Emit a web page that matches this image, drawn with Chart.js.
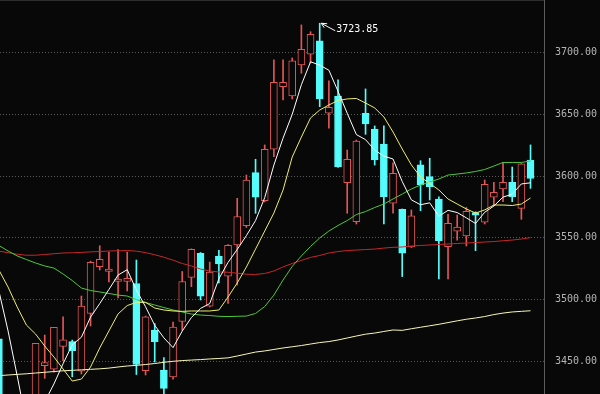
<!DOCTYPE html>
<html>
<head>
<meta charset="utf-8">
<script src="https://cdn.jsdelivr.net/npm/chart.js@4/dist/chart.umd.min.js"></script>
<style>
  html, body { margin: 0; padding: 0; background: #080808; }
  #wrap { width: 600px; height: 394px; position: relative; }
</style>
</head>
<body>
<div id="wrap"><canvas id="kChart"></canvas></div>
<script>
//
// candle data, index 0..58 left to right (null = below the visible range)
//
const opens = [
  3468, null, null, null, 3418, 3446.2, 3443.5, 3461.9, 3465.7, 3441.9,
  3488.7, 3526.5, 3522.6, 3514.5, 3514.5, 3512.9, 3442.3, 3475.2, 3442.7, 3437.1,
  3482.1, 3517.9, 3537.4, 3494.4, 3535.2, 3518.9, 3544.1, 3559.7, 3602.7, 3580,
  3621.7, 3672.4, 3664.9, 3690, 3698.7, 3709.5, 3650.9, 3664.9, 3594.6, 3563,
  3650.9, 3638.1, 3626, 3577.9, 3573, 3542.5, 3609, 3599.5, 3581.4, 3542.7,
  3555.4, 3551.4, 3570.3, 3562.5, 3582.8, 3589.5, 3594.9, 3573.8, 3613
];
const highs = [
  3469, null, null, null, 3464.4, 3471.1, 3477.4, 3485.9, 3467, 3502.7,
  3531, 3543.5, 3538.4, 3540.4, 3538.4, 3531.9, 3486.5, 3480.4, 3452.9, 3481.7,
  3522.6, 3541, 3538, 3530.3, 3539.8, 3544.5, 3581.9, 3600.8, 3613.6, 3625.2,
  3694.1, 3694.1, 3695.7, 3722.5, 3717, 3723.85, 3677.1, 3677.9, 3621.1, 3629.2,
  3670.6, 3640.6, 3640.6, 3610.8, 3573.3, 3572.5, 3612.4, 3614.4, 3583.2, 3569,
  3568.4, 3574.5, 3571, 3596.8, 3594.9, 3611.1, 3607.3, 3610.2, 3625.2
];
const lows = [
  3405, null, null, null, 3412, 3436, 3441, 3450.3, 3437.3, 3439.5,
  3478.4, 3523.8, 3514.1, 3501.1, 3506.8, 3439.1, 3438.7, 3449.2, 3421, 3435.4,
  3474.8, 3510.3, 3499.5, 3493.8, 3513.3, 3496.7, 3511.6, 3558.3, 3569.8, 3579,
  3615.7, 3661.6, 3662.5, 3683.3, 3691.6, 3656.2, 3638.7, 3607, 3569.8, 3561.1,
  3633.8, 3608.9, 3561.1, 3569.8, 3518.5, 3542, 3571.9, 3580.6, 3516.5, 3516.5,
  3548, 3543.3, 3539.5, 3561.1, 3575.7, 3579.2, 3579.2, 3564.9, 3590
];
const closes = [
  3415, null, null, null, 3464.4, 3448.7, 3477.4, 3467.3, 3458.4, 3494.6,
  3530.1, 3532.5, 3524.6, 3516.5, 3517.1, 3447.2, 3485.9, 3465.7, 3427.9, 3477.6,
  3514.5, 3540.6, 3502.7, 3522.2, 3528.7, 3543.8, 3567.2, 3596.8, 3582.8, 3621.7,
  3676, 3676, 3693.3, 3702.8, 3714.9, 3662.5, 3655.7, 3607.6, 3613.6, 3628.4,
  3642.2, 3613, 3583.2, 3602.2, 3537.4, 3567.8, 3592.7, 3591.4, 3547.6, 3561.7,
  3558.7, 3571.3, 3568.2, 3593.3, 3586.8, 3594.9, 3583.2, 3609.8, 3598
];

// moving average lines
const ma5 = [
  3506.8, 3474.4, 3437.9, 3400, 3398, 3417, 3431.4, 3447.8, 3463.2, 3469.3,
  3485.6, 3496.6, 3508.0, 3519.7, 3524.1, 3507.6, 3494, 3479, 3468.8, 3460.9,
  3474.3, 3485.3, 3492.7, 3496.6, 3516.7, 3530.0, 3540.5, 3551.7, 3563.9, 3582.5,
  3608.9, 3630.7, 3650.0, 3674.0, 3692.6, 3689.9, 3685.8, 3668.7, 3650.9, 3633.6,
  3629.5, 3621.0, 3616.1, 3613.8, 3595.6, 3580.7, 3576.7, 3578.3, 3567.4, 3572.2,
  3570.4, 3566.1, 3561.5, 3570.6, 3575.7, 3582.9, 3585.3, 3593.6, 3594.5
];
const ma10 = [
  3523.8, 3510.0, 3493.8, 3479.2, 3471.9, 3462.2, 3453.3, 3443.6, 3433.8, 3435.4,
  3445.2, 3460.6, 3474.4, 3488.2, 3495.0, 3497.6, 3497.6, 3493.0, 3491.4, 3490.6,
  3490.3, 3490.6, 3490.6, 3490.6, 3491.4, 3501.9, 3513.3, 3526.2, 3540.8, 3555.4,
  3570.0, 3588.6, 3615.4, 3631.6, 3647.1, 3653.5, 3657.6, 3661.2, 3662.5, 3662.9,
  3659.2, 3655.2, 3647.9, 3635.7, 3621.9, 3609.0, 3599.2, 3594.0, 3588.7, 3581.4,
  3577.3, 3573.3, 3570.0, 3572.5, 3576.5, 3576.5, 3576.1, 3577.3, 3582.2
];
const ma20 = [
  3543.7, 3539.2, 3535.2, 3532.3, 3529.5, 3527.1, 3525.4, 3520.6, 3515.3, 3509.2,
  3507.2, 3506.0, 3504.8, 3503.5, 3502.7, 3499.9, 3497.5, 3495.4, 3493.4, 3491.4,
  3489.8, 3488.1, 3487.3, 3486.9, 3486.3, 3486.1, 3486.3, 3486.5, 3488.6, 3494.2,
  3503.5, 3515.7, 3526.7, 3535.2, 3542.9, 3549.8, 3555.4, 3559.9, 3563.9, 3568.8,
  3571.2, 3574.5, 3577.3, 3581.4, 3585.4, 3589.5, 3592.7, 3595.2, 3597.6, 3600.8,
  3601.6, 3602.5, 3603.7, 3605.3, 3608.1, 3611.0, 3611.0, 3611.0, 3612.2
];
const ma60 = [
  3539.1, 3537.9, 3536.6, 3535.8, 3535.8, 3536.4, 3537.0, 3537.6, 3537.8, 3538.1,
  3538.5, 3538.8, 3539.2, 3539.4, 3539.6, 3539.1, 3537.9, 3536.2, 3534.2, 3531.8,
  3529.1, 3527.1, 3524.6, 3523.0, 3522.2, 3522.0, 3521.2, 3520.4, 3520.2, 3521.0,
  3523.0, 3526.3, 3529.1, 3531.6, 3534.0, 3535.6, 3537.6, 3538.8, 3539.6, 3540.0,
  3540.4, 3540.8, 3541.6, 3542.2, 3542.5, 3543.3, 3543.7, 3544.1, 3544.5, 3544.9,
  3545.3, 3545.7, 3546.1, 3546.5, 3546.9, 3547.5, 3548.1, 3548.9, 3550.1
];
const ma120 = [
  3438.2, 3438.7, 3439.2, 3439.7, 3440.3, 3440.9, 3441.5, 3442.1, 3442.5, 3442.9,
  3443.3, 3443.7, 3444.3, 3445.2, 3446.0, 3446.5, 3447.2, 3448.0, 3449.0, 3449.8,
  3450.4, 3450.8, 3451.2, 3451.7, 3452.1, 3452.6, 3454.1, 3455.7, 3457.3, 3458.2,
  3459.4, 3460.6, 3461.6, 3462.6, 3463.8, 3465.0, 3465.8, 3467.1, 3468.7, 3470.3,
  3471.8, 3472.7, 3474.0, 3475.2, 3474.9, 3476.2, 3477.4, 3478.6, 3479.8, 3481.2,
  3482.6, 3483.9, 3484.9, 3486.1, 3487.7, 3488.9, 3489.8, 3490.3, 3490.8
];

const yTicks = [3450, 3500, 3550, 3600, 3650, 3700];
const peakIndex = 35;

const UP = '#e35656';
const DOWN = '#54fcfc';
const BG = '#080808';

const bodies = [], wicks = [];
for (let i = 0; i < opens.length; i++) {
  if (opens[i] == null) continue;
  bodies.push({x: i, y: [opens[i], closes[i]]});
  wicks.push({x: i, y: [lows[i], highs[i]]});
}
function isUp(ctx) {
  const i = ctx.raw ? ctx.raw.x : 0;
  return closes[i] >= opens[i];
}
const line = (arr) => arr.map((v, i) => ({x: i, y: v}));

const peakLabel = {
  id: 'peakLabel',
  afterDatasetsDraw(chart) {
    const {ctx, scales: {x, y}} = chart;
    const px = x.getPixelForValue(peakIndex) + 1.5;
    const py = y.getPixelForValue(highs[peakIndex]);
    ctx.save();
    ctx.strokeStyle = '#ffffff';
    ctx.lineWidth = 1;
    ctx.beginPath();
    ctx.moveTo(px, py);
    ctx.lineTo(px + 14, py + 7.5);
    ctx.moveTo(px, py);
    ctx.lineTo(px + 6, py + 0.5);
    ctx.moveTo(px, py);
    ctx.lineTo(px + 3, py + 4.5);
    ctx.stroke();
    ctx.fillStyle = '#ffffff';
    ctx.font = '10px "DejaVu Sans Mono"';
    ctx.textBaseline = 'middle';
    ctx.fillText(highs[peakIndex].toFixed(2), px + 15, py + 6.5);
    ctx.restore();
  }
};

const topLine = {
  id: 'topLine',
  beforeDraw(chart) {
    const ctx = chart.ctx;
    ctx.save();
    ctx.strokeStyle = '#2e2e2e';
    ctx.beginPath();
    ctx.moveTo(0, 0.5);
    ctx.lineTo(chart.chartArea.right, 0.5);
    ctx.stroke();
    ctx.restore();
  }
};

const kChart = new Chart("kChart", {
  type: 'bar',
  data: {
    datasets: [
      { type: 'line', label: 'MA5', data: line(ma5), borderColor: '#ffffff', borderWidth: 1, pointRadius: 0, order: 0 },
      { type: 'line', label: 'MA10', data: line(ma10), borderColor: '#eeee70', borderWidth: 1, pointRadius: 0, order: 0 },
      { type: 'line', label: 'MA20', data: line(ma20), borderColor: '#50c83c', borderWidth: 1, pointRadius: 0, order: 0 },
      { type: 'line', label: 'MA60', data: line(ma60), borderColor: '#c42828', borderWidth: 1, pointRadius: 0, order: 0 },
      { type: 'line', label: 'MA120', data: line(ma120), borderColor: '#f8f8b8', borderWidth: 1, pointRadius: 0, order: 0 },
      {
        label: 'body', data: bodies, barThickness: 7, grouped: false, order: 1,
        borderWidth: 1, borderSkipped: false,
        backgroundColor: (c) => isUp(c) ? BG : DOWN,
        borderColor: (c) => isUp(c) ? UP : DOWN
      },
      {
        label: 'wick', data: wicks, barThickness: 1, grouped: false, order: 2,
        borderWidth: 0,
        backgroundColor: (c) => isUp(c) ? UP : DOWN
      }
    ]
  },
  options: {
    responsive: true,
    maintainAspectRatio: false,
    animation: false,
    layout: { padding: 0 },
    plugins: { legend: {display: false}, tooltip: {enabled: false} },
    scales: {
      x: { type: 'linear', min: 0.12, max: 59.47, offset: false, display: false },
      y: {
        position: 'right',
        min: 3423.3,
        max: 3742.7,
        afterBuildTicks: (s) => { s.ticks = yTicks.map(v => ({value: v})); },
        afterFit: (s) => { s.width = 56; s.paddingTop = 0; s.paddingBottom = 0; },
        ticks: {
          color: '#b4b4b4',
          font: { family: '"DejaVu Sans Mono"', size: 10 },
          padding: 11,
          callback: (v) => Number(v).toFixed(2)
        },
        grid: { color: '#585858', drawTicks: false },
        border: { display: true, color: '#5c5c5c', dash: [1, 2] }
      }
    }
  },
  plugins: [topLine, peakLabel]
});
</script>
</body>
</html>
